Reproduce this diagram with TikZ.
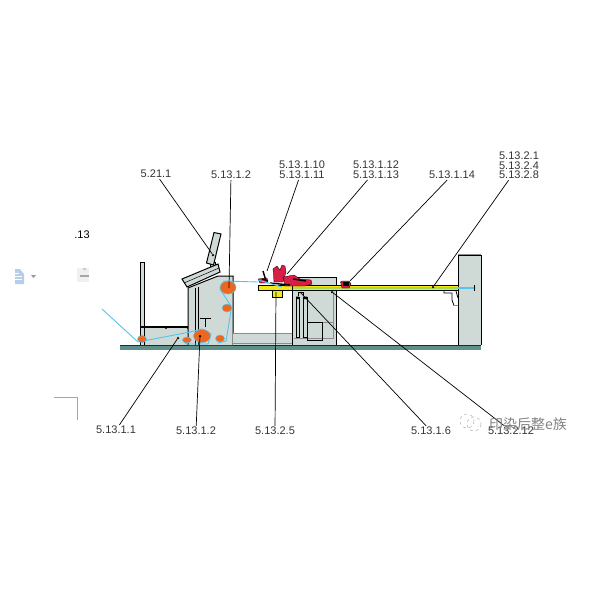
\documentclass[tikz,border=0pt]{standalone}
\usepackage{fontspec}
\setmainfont{Liberation Sans}
\newfontfamily\cjkfont{Noto Sans CJK SC}
\usetikzlibrary{positioning,shapes.geometric}
\definecolor{bodygrey}{HTML}{CFDAD6}
\definecolor{railgrey}{HTML}{8C8C8C}
\definecolor{groundteal}{HTML}{5F8F8A}
\definecolor{beltblue}{HTML}{55C4EC}
\definecolor{rollorange}{HTML}{F0661E}
\definecolor{feedred}{HTML}{D81E46}
\definecolor{tableyellow}{HTML}{F6E616}
\definecolor{railgreen}{HTML}{A8DC50}
\definecolor{iconblue}{HTML}{B8CDE8}
\tikzset{
    lbl/.style={font=\fontsize{11}{9.6}\selectfont, align=center, inner sep=1pt, text=black!80},
    leader/.style={draw=black, line width=0.7pt},
    frame/.style={draw=black, line width=1pt, fill=bodygrey},
    belt/.style={draw=beltblue, line width=0.9pt},
    roller/.style={ellipse, fill=rollorange, draw=beltblue, line width=0.5pt, inner sep=0pt},
    feeder/.style={fill=feedred, draw=black, line width=0.3pt},
    tip/.style={circle, fill=black, inner sep=0pt, minimum size=2.5pt}
}
\begin{document}
\begin{tikzpicture}[x=1pt, y=-1pt]
    \useasboundingbox (0,0) rectangle (600,600);

    % Ground
    \fill[groundteal] (120,345) rectangle (481,350);
    \draw[black!70!groundteal, line width=1pt] (120,345.5) -- (481,345.5);

    % Infeed table and post
    \fill[bodygrey] (141,327) rectangle (233,345);
    \draw[frame] (140,345) -- (140,262) -- (144.5,262) -- (144.5,345);
    \draw[black, line width=1.4pt] (141,327) -- (211,327);
    \foreach \x in {166,188} {
        \fill (\x,328) circle (1.2);
    }

    % Main cabinet
    \draw[frame] (188,345) -- (188,288) -- (218,276) -- (233,276) -- (233,345);
    \draw[black, line width=1pt] (195,345) -- (195,288) (198,345) -- (198,287);
    \draw[black, fill=bodygrey, line width=0.8pt] (210,270) -- (210,262) -- (215,262) -- (215,268);
    \draw[frame] (182,279) -- (218,264) -- (220,272) -- (187,287) -- cycle;
    \draw[black, line width=0.5pt] (184,283) -- (219,268);
    \draw[frame] (206.5,263) -- (214,232.5) -- (221,234) -- (213.5,265) -- cycle;
    \draw[black, line width=1pt] (200,318) -- (211,318) (205.5,318) -- (205.5,327);

    % Lower platform
    \fill[bodygrey] (233,333) rectangle (292,345);
    \draw[railgrey, line width=1pt] (233,333) -- (292,333) (233,343.5) -- (292,343.5);

    % Second cabinet
    \draw[frame] (292,345) -- (292,277) -- (336,277) -- (336,345);
    \draw[railgrey, line width=1pt] (294,338) -- (333,338) -- (333,292) (307,322) -- (333,322);
    \draw[black, line width=0.8pt] (307,322) rectangle (322,340);
    \draw[black, line width=0.7pt] (296,297) rectangle (299,337) (303,297) rectangle (307,337);
    \fill[black] (296,296.5) rectangle (299,299) (303,296.5) rectangle (307,299);
    \draw[black, line width=0.7pt] (298,296) -- (298,292.5) -- (303,292.5) -- (303,296);

    % Delivery rail and end box
    \fill[tableyellow] (290,285) rectangle (458,290.5);
    \fill[railgreen] (290,287) rectangle (458,289);
    \draw[black, line width=0.8pt] (290,285) -- (458,285) (290,290.5) -- (458,290.5);
    \draw[frame] (458,345) -- (458,255) -- (481,255) -- (481,345);
    \draw[railgrey, line width=1pt] (458,254.5) -- (481,254.5);
    \draw[black, line width=0.8pt] (444,291) -- (444,293) -- (452,293) -- (452,300) -- (454,305.5);
    \draw[railgrey, line width=0.8pt] (454,305.5) -- (458,305.5);
    \draw[black, line width=0.8pt] (456,291) -- (458,298);

    % Yellow table
    \fill[tableyellow, draw=black, line width=0.4pt] (258,285) rectangle (292,290);
    \fill[tableyellow, draw=black, line width=0.4pt] (272,290) rectangle (282,297);

    % Belt path
    \coordinate (beltIn) at (102,309);
    \coordinate (beltOut) at (258,282);
    \draw[belt] (beltIn) -- (138,342) -- (190,332) -- (202,329) -- (211,334) -- (208,344) -- (186,344) -- (183,340);
    \draw[belt] (beltOut) -- (224,281) -- (220,289) -- (231,306) -- (231,311) -- (226,341) -- (218,343);
    \draw[beltblue, line width=1.2pt] (458,288) -- (474,288);
    \draw[black, line width=0.8pt] (474,285) -- (474,291);

    % Rollers
    \node[roller, minimum width=16pt, minimum height=13pt] (rollA) at (228,287.5) {};
    \node[roller, minimum width=10pt, minimum height=8pt] (rollB) at (227,308) {};
    \node[roller, minimum width=17pt, minimum height=13pt] (rollC) at (202,336) {};
    \node[roller, minimum width=9pt, minimum height=7pt] (rollD) at (220,338.5) {};
    \node[roller, minimum width=9pt, minimum height=6pt] (rollE) at (187,340) {};
    \node[roller, minimum width=9pt, minimum height=7pt] (rollF) at (142,339) {};

    % Feeder head
    \draw[feeder] (258,279) -- (267,278) -- (268,283) -- (260,283) -- cycle;
    \draw[feeder] (273,269) -- (277,266) -- (280,270) -- (282,265) -- (285,266) -- (286,272) -- (283,282) -- (274,282) -- cycle;
    \draw[feeder] (283,277) -- (294,275) -- (300,279) -- (311,280) -- (312,284) -- (305,286) -- (285,286) -- cycle;
    \draw[black, line width=1.4pt] (263,271) -- (266,281) (270,283) -- (290,285) (293,279) -- (306,281) (262,279) -- (268,281);
    \draw[beltblue, line width=1pt] (258,280) -- (282,287);
    \draw[feeder] (340.5,282) -- (342,281) -- (349,281) -- (351,284) -- (349,288) -- (342,288) -- cycle;
    \fill[black] (343,282) rectangle (349,286);

    % Targets of the call-outs
    \node[tip] (t1) at (213,255) {};
    \coordinate (t2) at (229,288);
    \coordinate (t3) at (267,271);
    \coordinate (t4) at (287,274);
    \coordinate (t5) at (350,281);
    \node[tip] (t6) at (433,287) {};
    \node[tip] (t7) at (178,338) {};
    \node[tip] (t8) at (200,336) {};
    \coordinate (t9) at (276,292);
    \coordinate (t10) at (300,292);
    \node[tip] (t11) at (332,292) {};

    % Call-outs
    \foreach \i/\pos/\txt in {
        1/{156,174}/5.21.1,
        2/{231,175}/5.13.1.2,
        3/{302,170}/{5.13.1.10\\5.13.1.11},
        4/{376,170}/{5.13.1.12\\5.13.1.13},
        5/{452,175}/5.13.1.14,
        6/{519,165.5}/{5.13.2.1\\5.13.2.4\\5.13.2.8},
        7/{116,430}/5.13.1.1,
        8/{196,431}/5.13.1.2,
        9/{275,431}/5.13.2.5,
        10/{431,431}/5.13.1.6,
        11/{511,431}/5.13.2.12} {
        \node[lbl] (l\i) at (\pos) {\txt};
        \draw[leader] (l\i) -- (t\i);
    }

    % Stray bits of the page
    \node[lbl, text=black] (cut) at (82,235) {.13};
    \fill[iconblue] (15,269) -- (20,269) -- (24,274) -- (24,284) -- (15,284) -- cycle;
    \draw[white, line width=0.6pt] (15,273) -- (19,273) (15,276) -- (22,276) (15,279) -- (22,279);
    \fill[black!40] (31,275) -- (36,275) -- (33.5,278) -- cycle;
    \fill[black!6] (77,268) rectangle (89,282);
    \fill[black!35] (80,275) rectangle (89,277);
    \fill[iconblue] (83,268) rectangle (86,270);
    \draw[black!35, line width=1pt] (54,397) -- (77.5,397) -- (77.5,420);

    % Watermark
    \draw[black!25, dashed, line width=0.6pt] (467,421) circle (7) (474,424) circle (7);
    \node[font=\cjkfont\fontsize{14}{14}\selectfont, text=black!50, inner sep=0pt] (mark) at (528,424) {印染后整e族};
\end{tikzpicture}
\end{document}
